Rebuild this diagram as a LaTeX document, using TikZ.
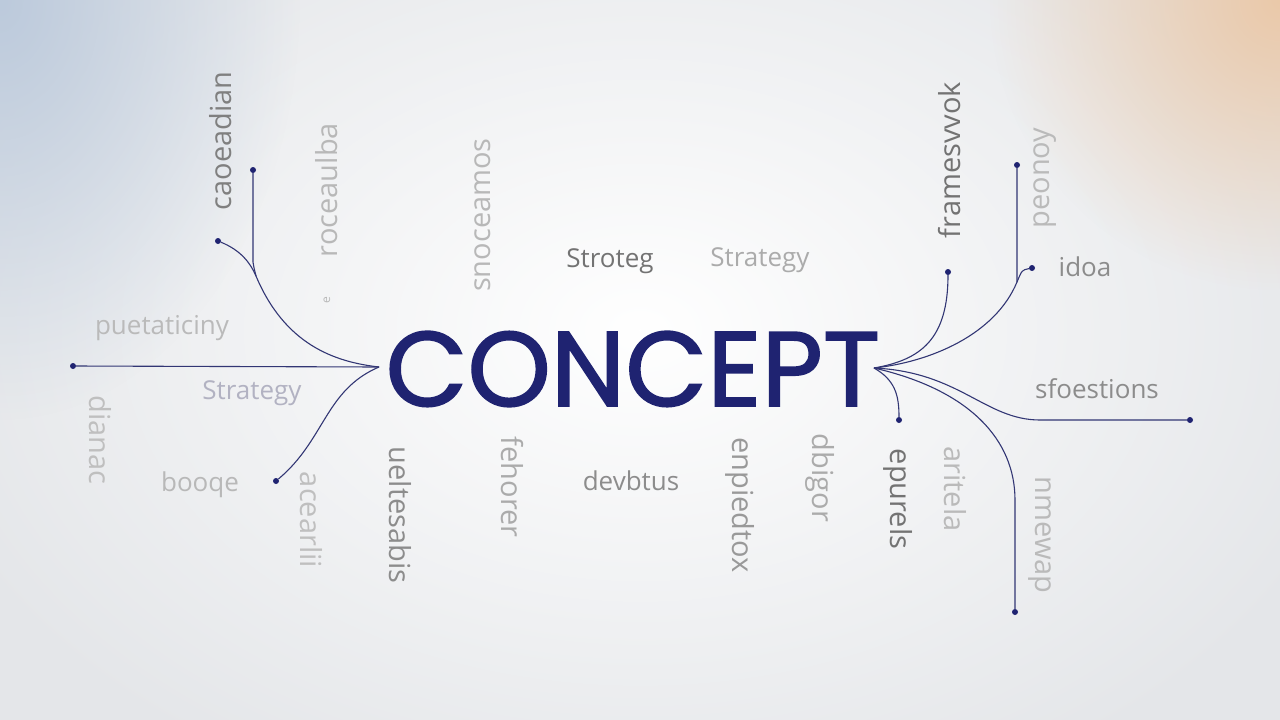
\documentclass[tikz,border=0pt]{standalone}
\usepackage{fontspec}
\setmainfont{Open Sans}
\newfontfamily\titlefont[FakeBold=1.6]{Poppins}
\usetikzlibrary{fadings}
\definecolor{navy}{HTML}{1F2371}
\definecolor{bgray}{HTML}{E4E6E9}
\definecolor{bluecorner}{HTML}{BCCADC}
\definecolor{peach}{HTML}{EBC9A9}
\tikzfading[name=glowfade, inner color=transparent!0, outer color=transparent!100]
\begin{document}
\begin{tikzpicture}[x=1pt,y=-1pt,
    dot/.style ={circle, fill=navy, inner sep = 0pt, minimum size=6pt},
    branch/.style ={draw=navy!80!gray, line width=1.1pt},
    word/.style ={inner sep=0pt, font=\fontsize{26}{28}\selectfont},
    vword/.style ={word, font=\fontsize{29}{30}\selectfont}]
   \useasboundingbox (0,0) rectangle (1280,720);
   \fill[bgray] (0,0) rectangle (1280,720);
   \fill[white, path fading=glowfade] (640,330) ellipse (760 and 520);
   \fill[bluecorner, path fading=glowfade] (0,0) ellipse (300 and 420);
   \fill[peach, path fading=glowfade] (1280,0) circle (290);
   \node[text=navy, font=\titlefont\fontsize{106}{106}\selectfont] (concept) at (633,369) {CONCEPT};
   \coordinate (lhub) at (379,367);
   \coordinate (rhub) at (874,368);
   \coordinate (ljoin) at (256,276);
   \node[dot] (caoe)   at (253,170)  {};
   \node[dot] (left1)  at (218,241)  {};
   \node[dot] (left2)  at (73,366)   {};
   \node[dot] (left3)  at (276,481)  {};
   \node[dot] (frame)  at (948,272)  {};
   \node[dot] (peon)   at (1017,165) {};
   \node[dot] (idoa)   at (1032,268) {};
   \node[dot] (stub)   at (899,420)  {};
   \node[dot] (sfoe)   at (1190,420) {};
   \node[dot] (nmew)   at (1015,612) {};
   \coordinate (peonj) at (1017,282);
   \draw[branch] (caoe) -- (253,262) .. controls (254,268) .. (ljoin);
   \draw[branch] (left1) .. controls (240,250) and (250,262) .. (ljoin);
   \draw[branch] (ljoin) .. controls (285,345) and (335,362) .. (lhub);
   \draw[branch] (left2) -- (lhub);
   \draw[branch] (lhub) .. controls (325,390) and (325,440) .. (left3);
   \draw[branch] (frame) .. controls (948,340) and (920,360) .. (rhub);
   \draw[branch] (peon) -- (peonj) .. controls (995,335) and (930,362) .. (rhub);
   \draw[branch] (idoa) .. controls (1022,270) .. (peonj);
   \draw[branch] (rhub) .. controls (895,380) and (899,395) .. (stub);
   \draw[branch] (rhub) .. controls (960,372) and (985,420) .. (1040,420) -- (sfoe);
   \draw[branch] (rhub) .. controls (970,390) and (1015,440) .. (1015,500) -- (nmew);
   \node[word, text=black!55] (stroteg) at (610,261) {Stroteg};
   \node[word, text=black!33] (strat1)  at (760,260) {Strategy};
   \node[word, text=black!27] (puet)    at (162,328) {puetaticiny};
   \node[word, text=blue!20!black!30] (strat2) at (252,393) {Strategy};
   \node[word, text=black!28] (booqe)   at (200,485) {booqe};
   \node[word, text=black!45] (devb)    at (631,481) {devbtus};
   \node[word, text=black!45] (idoat)   at (1085,267) {idoa};
   \node[word, text=black!45] (sfoet)   at (1097,389) {sfoestions};
   \node[vword, rotate=90, text=black!50]  (caoet)  at (221,141) {caoeadian};
   \node[vword, rotate=90, text=black!28]  (roce)   at (327,190) {roceaulba};
   \node[word, rotate=90, text=black!28, font=\fontsize{12}{12}\selectfont] (ee) at (327,300) {e};
   \node[vword, rotate=90, text=black!28]  (snoc)   at (483,215) {snoceamos};
   \node[vword, rotate=-90, text=black!25] (dian)   at (100,440) {dianac};
   \node[vword, rotate=-90, text=black!25] (acea)   at (311,520) {acearlii};
   \node[vword, rotate=-90, text=black!45] (uelt)   at (400,515) {ueltesabis};
   \node[vword, rotate=-90, text=black!33] (feho)   at (512,487) {fehorer};
   \node[vword, rotate=-90, text=black!40] (enpi)   at (740,505) {enpiedtox};
   \node[vword, rotate=-90, text=black!33] (dbig)   at (820,478) {dbigor};
   \node[vword, rotate=-90, text=black!55] (epur)   at (898,499) {epurels};
   \node[vword, rotate=-90, text=black!27] (arit)   at (955,489) {aritela};
   \node[vword, rotate=-90, text=black!27] (nmewt)  at (1040,535) {nmewap};
   \node[vword, rotate=90, text=black!55]  (framet) at (950,160) {framesvvok};
   \node[vword, rotate=90, text=black!27]  (peont)  at (1045,178) {peonoy};
 \end{tikzpicture}
\end{document}
